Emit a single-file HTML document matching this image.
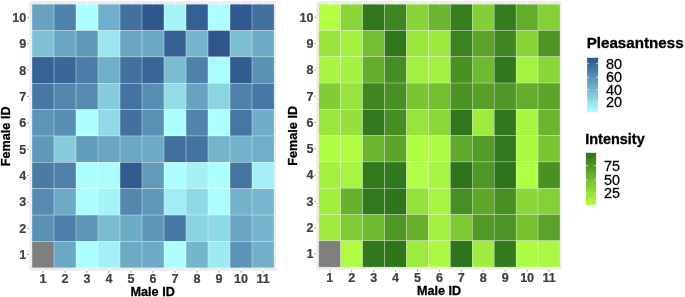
<!DOCTYPE html>
<html><head><meta charset="utf-8"><title>Heatmaps</title>
<style>
html,body{margin:0;padding:0;background:#fff;}
svg{display:block;}
text{font-family:"Liberation Sans",Arial,sans-serif;}
.tk{font-size:12.2px;font-weight:bold;fill:#404040;stroke:#404040;stroke-width:0.2px;}
.ax{font-size:12.4px;font-weight:bold;fill:#000;stroke:#000;stroke-width:0.3px;}
.lt{font-size:14px;font-weight:bold;fill:#000;stroke:#000;stroke-width:0.3px;}
.ll{font-size:14px;fill:#000;stroke:#000;stroke-width:0.25px;}
</style></head><body>
<svg width="685" height="297" viewBox="0 0 685 297">
<defs>
<linearGradient id="gb" x1="0" y1="0" x2="0" y2="1"><stop offset="0" stop-color="#2c548c"/><stop offset="1" stop-color="#adffff"/></linearGradient>
<linearGradient id="gg" x1="0" y1="0" x2="0" y2="1"><stop offset="0" stop-color="#2e741c"/><stop offset="1" stop-color="#b2ff44"/></linearGradient>
</defs>
<rect width="685" height="297" fill="#fff"/>
<rect x="29.3" y="1.2" width="246.7" height="269.40000000000003" fill="#ebebeb"/>
<line x1="43.05" x2="43.05" y1="1.2" y2="270.6" stroke="#fff" stroke-width="0.9"/>
<line x1="65.05" x2="65.05" y1="1.2" y2="270.6" stroke="#fff" stroke-width="0.9"/>
<line x1="87.05" x2="87.05" y1="1.2" y2="270.6" stroke="#fff" stroke-width="0.9"/>
<line x1="109.05" x2="109.05" y1="1.2" y2="270.6" stroke="#fff" stroke-width="0.9"/>
<line x1="131.05" x2="131.05" y1="1.2" y2="270.6" stroke="#fff" stroke-width="0.9"/>
<line x1="153.05" x2="153.05" y1="1.2" y2="270.6" stroke="#fff" stroke-width="0.9"/>
<line x1="175.05" x2="175.05" y1="1.2" y2="270.6" stroke="#fff" stroke-width="0.9"/>
<line x1="197.05" x2="197.05" y1="1.2" y2="270.6" stroke="#fff" stroke-width="0.9"/>
<line x1="219.05" x2="219.05" y1="1.2" y2="270.6" stroke="#fff" stroke-width="0.9"/>
<line x1="241.05" x2="241.05" y1="1.2" y2="270.6" stroke="#fff" stroke-width="0.9"/>
<line x1="263.05" x2="263.05" y1="1.2" y2="270.6" stroke="#fff" stroke-width="0.9"/>
<line y1="17.38" y2="17.38" x1="29.3" x2="276" stroke="#fff" stroke-width="0.9"/>
<line y1="43.74" y2="43.74" x1="29.3" x2="276" stroke="#fff" stroke-width="0.9"/>
<line y1="70.10" y2="70.10" x1="29.3" x2="276" stroke="#fff" stroke-width="0.9"/>
<line y1="96.46" y2="96.46" x1="29.3" x2="276" stroke="#fff" stroke-width="0.9"/>
<line y1="122.82" y2="122.82" x1="29.3" x2="276" stroke="#fff" stroke-width="0.9"/>
<line y1="149.18" y2="149.18" x1="29.3" x2="276" stroke="#fff" stroke-width="0.9"/>
<line y1="175.54" y2="175.54" x1="29.3" x2="276" stroke="#fff" stroke-width="0.9"/>
<line y1="201.90" y2="201.90" x1="29.3" x2="276" stroke="#fff" stroke-width="0.9"/>
<line y1="228.26" y2="228.26" x1="29.3" x2="276" stroke="#fff" stroke-width="0.9"/>
<line y1="254.62" y2="254.62" x1="29.3" x2="276" stroke="#fff" stroke-width="0.9"/>
<rect x="32.05" y="4.20" width="22.00" height="26.36" fill="#67a3c1" stroke="#fff" stroke-opacity="0.5" stroke-width="0.5"/>
<rect x="54.05" y="4.20" width="22.00" height="26.36" fill="#4f82ab" stroke="#fff" stroke-opacity="0.5" stroke-width="0.5"/>
<rect x="76.05" y="4.20" width="22.00" height="26.36" fill="#adffff" stroke="#fff" stroke-opacity="0.5" stroke-width="0.5"/>
<rect x="98.05" y="4.20" width="22.00" height="26.36" fill="#70afc9" stroke="#fff" stroke-opacity="0.5" stroke-width="0.5"/>
<rect x="120.05" y="4.20" width="22.00" height="26.36" fill="#4271a0" stroke="#fff" stroke-opacity="0.5" stroke-width="0.5"/>
<rect x="142.05" y="4.20" width="22.00" height="26.36" fill="#2f578e" stroke="#fff" stroke-opacity="0.5" stroke-width="0.5"/>
<rect x="164.05" y="4.20" width="22.00" height="26.36" fill="#a5f5f8" stroke="#fff" stroke-opacity="0.5" stroke-width="0.5"/>
<rect x="186.05" y="4.20" width="22.00" height="26.36" fill="#356094" stroke="#fff" stroke-opacity="0.5" stroke-width="0.5"/>
<rect x="208.05" y="4.20" width="22.00" height="26.36" fill="#adffff" stroke="#fff" stroke-opacity="0.5" stroke-width="0.5"/>
<rect x="230.05" y="4.20" width="22.00" height="26.36" fill="#30598f" stroke="#fff" stroke-opacity="0.5" stroke-width="0.5"/>
<rect x="252.05" y="4.20" width="22.00" height="26.36" fill="#416f9e" stroke="#fff" stroke-opacity="0.5" stroke-width="0.5"/>
<rect x="32.05" y="30.56" width="22.00" height="26.36" fill="#7fc1d6" stroke="#fff" stroke-opacity="0.5" stroke-width="0.5"/>
<rect x="54.05" y="30.56" width="22.00" height="26.36" fill="#6aa6c3" stroke="#fff" stroke-opacity="0.5" stroke-width="0.5"/>
<rect x="76.05" y="30.56" width="22.00" height="26.36" fill="#6098ba" stroke="#fff" stroke-opacity="0.5" stroke-width="0.5"/>
<rect x="98.05" y="30.56" width="22.00" height="26.36" fill="#9ae5ee" stroke="#fff" stroke-opacity="0.5" stroke-width="0.5"/>
<rect x="120.05" y="30.56" width="22.00" height="26.36" fill="#6aa6c3" stroke="#fff" stroke-opacity="0.5" stroke-width="0.5"/>
<rect x="142.05" y="30.56" width="22.00" height="26.36" fill="#6ba8c4" stroke="#fff" stroke-opacity="0.5" stroke-width="0.5"/>
<rect x="164.05" y="30.56" width="22.00" height="26.36" fill="#356094" stroke="#fff" stroke-opacity="0.5" stroke-width="0.5"/>
<rect x="186.05" y="30.56" width="22.00" height="26.36" fill="#76b5ce" stroke="#fff" stroke-opacity="0.5" stroke-width="0.5"/>
<rect x="208.05" y="30.56" width="22.00" height="26.36" fill="#2d568d" stroke="#fff" stroke-opacity="0.5" stroke-width="0.5"/>
<rect x="230.05" y="30.56" width="22.00" height="26.36" fill="#7cbed3" stroke="#fff" stroke-opacity="0.5" stroke-width="0.5"/>
<rect x="252.05" y="30.56" width="22.00" height="26.36" fill="#6caac6" stroke="#fff" stroke-opacity="0.5" stroke-width="0.5"/>
<rect x="32.05" y="56.92" width="22.00" height="26.36" fill="#366295" stroke="#fff" stroke-opacity="0.5" stroke-width="0.5"/>
<rect x="54.05" y="56.92" width="22.00" height="26.36" fill="#3a6799" stroke="#fff" stroke-opacity="0.5" stroke-width="0.5"/>
<rect x="76.05" y="56.92" width="22.00" height="26.36" fill="#4b7da8" stroke="#fff" stroke-opacity="0.5" stroke-width="0.5"/>
<rect x="98.05" y="56.92" width="22.00" height="26.36" fill="#70afc9" stroke="#fff" stroke-opacity="0.5" stroke-width="0.5"/>
<rect x="120.05" y="56.92" width="22.00" height="26.36" fill="#4271a0" stroke="#fff" stroke-opacity="0.5" stroke-width="0.5"/>
<rect x="142.05" y="56.92" width="22.00" height="26.36" fill="#396598" stroke="#fff" stroke-opacity="0.5" stroke-width="0.5"/>
<rect x="164.05" y="56.92" width="22.00" height="26.36" fill="#79bbd1" stroke="#fff" stroke-opacity="0.5" stroke-width="0.5"/>
<rect x="186.05" y="56.92" width="22.00" height="26.36" fill="#4f82ab" stroke="#fff" stroke-opacity="0.5" stroke-width="0.5"/>
<rect x="208.05" y="56.92" width="22.00" height="26.36" fill="#aafcfd" stroke="#fff" stroke-opacity="0.5" stroke-width="0.5"/>
<rect x="230.05" y="56.92" width="22.00" height="26.36" fill="#325d92" stroke="#fff" stroke-opacity="0.5" stroke-width="0.5"/>
<rect x="252.05" y="56.92" width="22.00" height="26.36" fill="#5a92b5" stroke="#fff" stroke-opacity="0.5" stroke-width="0.5"/>
<rect x="32.05" y="83.28" width="22.00" height="26.36" fill="#4778a4" stroke="#fff" stroke-opacity="0.5" stroke-width="0.5"/>
<rect x="54.05" y="83.28" width="22.00" height="26.36" fill="#5387ae" stroke="#fff" stroke-opacity="0.5" stroke-width="0.5"/>
<rect x="76.05" y="83.28" width="22.00" height="26.36" fill="#558bb1" stroke="#fff" stroke-opacity="0.5" stroke-width="0.5"/>
<rect x="98.05" y="83.28" width="22.00" height="26.36" fill="#86ccdc" stroke="#fff" stroke-opacity="0.5" stroke-width="0.5"/>
<rect x="120.05" y="83.28" width="22.00" height="26.36" fill="#4373a1" stroke="#fff" stroke-opacity="0.5" stroke-width="0.5"/>
<rect x="142.05" y="83.28" width="22.00" height="26.36" fill="#588eb3" stroke="#fff" stroke-opacity="0.5" stroke-width="0.5"/>
<rect x="164.05" y="83.28" width="22.00" height="26.36" fill="#93dde8" stroke="#fff" stroke-opacity="0.5" stroke-width="0.5"/>
<rect x="186.05" y="83.28" width="22.00" height="26.36" fill="#67a3c1" stroke="#fff" stroke-opacity="0.5" stroke-width="0.5"/>
<rect x="208.05" y="83.28" width="22.00" height="26.36" fill="#8dd4e2" stroke="#fff" stroke-opacity="0.5" stroke-width="0.5"/>
<rect x="230.05" y="83.28" width="22.00" height="26.36" fill="#4f82ab" stroke="#fff" stroke-opacity="0.5" stroke-width="0.5"/>
<rect x="252.05" y="83.28" width="22.00" height="26.36" fill="#4676a3" stroke="#fff" stroke-opacity="0.5" stroke-width="0.5"/>
<rect x="32.05" y="109.64" width="22.00" height="26.36" fill="#5d95b8" stroke="#fff" stroke-opacity="0.5" stroke-width="0.5"/>
<rect x="54.05" y="109.64" width="22.00" height="26.36" fill="#588eb3" stroke="#fff" stroke-opacity="0.5" stroke-width="0.5"/>
<rect x="76.05" y="109.64" width="22.00" height="26.36" fill="#adffff" stroke="#fff" stroke-opacity="0.5" stroke-width="0.5"/>
<rect x="98.05" y="109.64" width="22.00" height="26.36" fill="#91d9e6" stroke="#fff" stroke-opacity="0.5" stroke-width="0.5"/>
<rect x="120.05" y="109.64" width="22.00" height="26.36" fill="#4271a0" stroke="#fff" stroke-opacity="0.5" stroke-width="0.5"/>
<rect x="142.05" y="109.64" width="22.00" height="26.36" fill="#5990b4" stroke="#fff" stroke-opacity="0.5" stroke-width="0.5"/>
<rect x="164.05" y="109.64" width="22.00" height="26.36" fill="#adffff" stroke="#fff" stroke-opacity="0.5" stroke-width="0.5"/>
<rect x="186.05" y="109.64" width="22.00" height="26.36" fill="#5084ac" stroke="#fff" stroke-opacity="0.5" stroke-width="0.5"/>
<rect x="208.05" y="109.64" width="22.00" height="26.36" fill="#adffff" stroke="#fff" stroke-opacity="0.5" stroke-width="0.5"/>
<rect x="230.05" y="109.64" width="22.00" height="26.36" fill="#4676a3" stroke="#fff" stroke-opacity="0.5" stroke-width="0.5"/>
<rect x="252.05" y="109.64" width="22.00" height="26.36" fill="#6fadc8" stroke="#fff" stroke-opacity="0.5" stroke-width="0.5"/>
<rect x="32.05" y="136.00" width="22.00" height="26.36" fill="#6098ba" stroke="#fff" stroke-opacity="0.5" stroke-width="0.5"/>
<rect x="54.05" y="136.00" width="22.00" height="26.36" fill="#86ccdc" stroke="#fff" stroke-opacity="0.5" stroke-width="0.5"/>
<rect x="76.05" y="136.00" width="22.00" height="26.36" fill="#629cbc" stroke="#fff" stroke-opacity="0.5" stroke-width="0.5"/>
<rect x="98.05" y="136.00" width="22.00" height="26.36" fill="#6aa6c3" stroke="#fff" stroke-opacity="0.5" stroke-width="0.5"/>
<rect x="120.05" y="136.00" width="22.00" height="26.36" fill="#6ba8c4" stroke="#fff" stroke-opacity="0.5" stroke-width="0.5"/>
<rect x="142.05" y="136.00" width="22.00" height="26.36" fill="#6caac6" stroke="#fff" stroke-opacity="0.5" stroke-width="0.5"/>
<rect x="164.05" y="136.00" width="22.00" height="26.36" fill="#416f9e" stroke="#fff" stroke-opacity="0.5" stroke-width="0.5"/>
<rect x="186.05" y="136.00" width="22.00" height="26.36" fill="#4373a1" stroke="#fff" stroke-opacity="0.5" stroke-width="0.5"/>
<rect x="208.05" y="136.00" width="22.00" height="26.36" fill="#74b4cc" stroke="#fff" stroke-opacity="0.5" stroke-width="0.5"/>
<rect x="230.05" y="136.00" width="22.00" height="26.36" fill="#73b2cb" stroke="#fff" stroke-opacity="0.5" stroke-width="0.5"/>
<rect x="252.05" y="136.00" width="22.00" height="26.36" fill="#70afc9" stroke="#fff" stroke-opacity="0.5" stroke-width="0.5"/>
<rect x="32.05" y="162.36" width="22.00" height="26.36" fill="#4a7ba6" stroke="#fff" stroke-opacity="0.5" stroke-width="0.5"/>
<rect x="54.05" y="162.36" width="22.00" height="26.36" fill="#4e80aa" stroke="#fff" stroke-opacity="0.5" stroke-width="0.5"/>
<rect x="76.05" y="162.36" width="22.00" height="26.36" fill="#adffff" stroke="#fff" stroke-opacity="0.5" stroke-width="0.5"/>
<rect x="98.05" y="162.36" width="22.00" height="26.36" fill="#aafcfd" stroke="#fff" stroke-opacity="0.5" stroke-width="0.5"/>
<rect x="120.05" y="162.36" width="22.00" height="26.36" fill="#315b91" stroke="#fff" stroke-opacity="0.5" stroke-width="0.5"/>
<rect x="142.05" y="162.36" width="22.00" height="26.36" fill="#619abb" stroke="#fff" stroke-opacity="0.5" stroke-width="0.5"/>
<rect x="164.05" y="162.36" width="22.00" height="26.36" fill="#adffff" stroke="#fff" stroke-opacity="0.5" stroke-width="0.5"/>
<rect x="186.05" y="162.36" width="22.00" height="26.36" fill="#a3f1f6" stroke="#fff" stroke-opacity="0.5" stroke-width="0.5"/>
<rect x="208.05" y="162.36" width="22.00" height="26.36" fill="#adffff" stroke="#fff" stroke-opacity="0.5" stroke-width="0.5"/>
<rect x="230.05" y="162.36" width="22.00" height="26.36" fill="#4574a2" stroke="#fff" stroke-opacity="0.5" stroke-width="0.5"/>
<rect x="252.05" y="162.36" width="22.00" height="26.36" fill="#a3f1f6" stroke="#fff" stroke-opacity="0.5" stroke-width="0.5"/>
<rect x="32.05" y="188.72" width="22.00" height="26.36" fill="#558bb1" stroke="#fff" stroke-opacity="0.5" stroke-width="0.5"/>
<rect x="54.05" y="188.72" width="22.00" height="26.36" fill="#6caac6" stroke="#fff" stroke-opacity="0.5" stroke-width="0.5"/>
<rect x="76.05" y="188.72" width="22.00" height="26.36" fill="#adffff" stroke="#fff" stroke-opacity="0.5" stroke-width="0.5"/>
<rect x="98.05" y="188.72" width="22.00" height="26.36" fill="#a4f3f7" stroke="#fff" stroke-opacity="0.5" stroke-width="0.5"/>
<rect x="120.05" y="188.72" width="22.00" height="26.36" fill="#5387ae" stroke="#fff" stroke-opacity="0.5" stroke-width="0.5"/>
<rect x="142.05" y="188.72" width="22.00" height="26.36" fill="#6098ba" stroke="#fff" stroke-opacity="0.5" stroke-width="0.5"/>
<rect x="164.05" y="188.72" width="22.00" height="26.36" fill="#a0eef4" stroke="#fff" stroke-opacity="0.5" stroke-width="0.5"/>
<rect x="186.05" y="188.72" width="22.00" height="26.36" fill="#8fd8e5" stroke="#fff" stroke-opacity="0.5" stroke-width="0.5"/>
<rect x="208.05" y="188.72" width="22.00" height="26.36" fill="#aafcfd" stroke="#fff" stroke-opacity="0.5" stroke-width="0.5"/>
<rect x="230.05" y="188.72" width="22.00" height="26.36" fill="#73b2cb" stroke="#fff" stroke-opacity="0.5" stroke-width="0.5"/>
<rect x="252.05" y="188.72" width="22.00" height="26.36" fill="#77b7cf" stroke="#fff" stroke-opacity="0.5" stroke-width="0.5"/>
<rect x="32.05" y="215.08" width="22.00" height="26.36" fill="#5a92b5" stroke="#fff" stroke-opacity="0.5" stroke-width="0.5"/>
<rect x="54.05" y="215.08" width="22.00" height="26.36" fill="#4c7fa9" stroke="#fff" stroke-opacity="0.5" stroke-width="0.5"/>
<rect x="76.05" y="215.08" width="22.00" height="26.36" fill="#5e97b9" stroke="#fff" stroke-opacity="0.5" stroke-width="0.5"/>
<rect x="98.05" y="215.08" width="22.00" height="26.36" fill="#79bbd1" stroke="#fff" stroke-opacity="0.5" stroke-width="0.5"/>
<rect x="120.05" y="215.08" width="22.00" height="26.36" fill="#6eabc7" stroke="#fff" stroke-opacity="0.5" stroke-width="0.5"/>
<rect x="142.05" y="215.08" width="22.00" height="26.36" fill="#5e97b9" stroke="#fff" stroke-opacity="0.5" stroke-width="0.5"/>
<rect x="164.05" y="215.08" width="22.00" height="26.36" fill="#4778a4" stroke="#fff" stroke-opacity="0.5" stroke-width="0.5"/>
<rect x="186.05" y="215.08" width="22.00" height="26.36" fill="#8bd3e1" stroke="#fff" stroke-opacity="0.5" stroke-width="0.5"/>
<rect x="208.05" y="215.08" width="22.00" height="26.36" fill="#8fd8e5" stroke="#fff" stroke-opacity="0.5" stroke-width="0.5"/>
<rect x="230.05" y="215.08" width="22.00" height="26.36" fill="#69a4c2" stroke="#fff" stroke-opacity="0.5" stroke-width="0.5"/>
<rect x="252.05" y="215.08" width="22.00" height="26.36" fill="#76b5ce" stroke="#fff" stroke-opacity="0.5" stroke-width="0.5"/>
<rect x="32.05" y="241.44" width="22.00" height="26.36" fill="#7f7f7f" stroke="#fff" stroke-opacity="0.5" stroke-width="0.5"/>
<rect x="54.05" y="241.44" width="22.00" height="26.36" fill="#6ba8c4" stroke="#fff" stroke-opacity="0.5" stroke-width="0.5"/>
<rect x="76.05" y="241.44" width="22.00" height="26.36" fill="#adffff" stroke="#fff" stroke-opacity="0.5" stroke-width="0.5"/>
<rect x="98.05" y="241.44" width="22.00" height="26.36" fill="#a3f1f6" stroke="#fff" stroke-opacity="0.5" stroke-width="0.5"/>
<rect x="120.05" y="241.44" width="22.00" height="26.36" fill="#6caac6" stroke="#fff" stroke-opacity="0.5" stroke-width="0.5"/>
<rect x="142.05" y="241.44" width="22.00" height="26.36" fill="#6caac6" stroke="#fff" stroke-opacity="0.5" stroke-width="0.5"/>
<rect x="164.05" y="241.44" width="22.00" height="26.36" fill="#adffff" stroke="#fff" stroke-opacity="0.5" stroke-width="0.5"/>
<rect x="186.05" y="241.44" width="22.00" height="26.36" fill="#74b4cc" stroke="#fff" stroke-opacity="0.5" stroke-width="0.5"/>
<rect x="208.05" y="241.44" width="22.00" height="26.36" fill="#9eeaf1" stroke="#fff" stroke-opacity="0.5" stroke-width="0.5"/>
<rect x="230.05" y="241.44" width="22.00" height="26.36" fill="#5c93b7" stroke="#fff" stroke-opacity="0.5" stroke-width="0.5"/>
<rect x="252.05" y="241.44" width="22.00" height="26.36" fill="#72b0ca" stroke="#fff" stroke-opacity="0.5" stroke-width="0.5"/>
<line x1="43.05" x2="43.05" y1="270.90000000000003" y2="272.6" stroke="#777" stroke-width="0.8"/>
<text transform="translate(43.05,283.20) scale(1.03,1)" text-anchor="middle" class="tk">1</text>
<line x1="65.05" x2="65.05" y1="270.90000000000003" y2="272.6" stroke="#777" stroke-width="0.8"/>
<text transform="translate(65.05,283.20) scale(1.03,1)" text-anchor="middle" class="tk">2</text>
<line x1="87.05" x2="87.05" y1="270.90000000000003" y2="272.6" stroke="#777" stroke-width="0.8"/>
<text transform="translate(87.05,283.20) scale(1.03,1)" text-anchor="middle" class="tk">3</text>
<line x1="109.05" x2="109.05" y1="270.90000000000003" y2="272.6" stroke="#777" stroke-width="0.8"/>
<text transform="translate(109.05,283.20) scale(1.03,1)" text-anchor="middle" class="tk">4</text>
<line x1="131.05" x2="131.05" y1="270.90000000000003" y2="272.6" stroke="#777" stroke-width="0.8"/>
<text transform="translate(131.05,283.20) scale(1.03,1)" text-anchor="middle" class="tk">5</text>
<line x1="153.05" x2="153.05" y1="270.90000000000003" y2="272.6" stroke="#777" stroke-width="0.8"/>
<text transform="translate(153.05,283.20) scale(1.03,1)" text-anchor="middle" class="tk">6</text>
<line x1="175.05" x2="175.05" y1="270.90000000000003" y2="272.6" stroke="#777" stroke-width="0.8"/>
<text transform="translate(175.05,283.20) scale(1.03,1)" text-anchor="middle" class="tk">7</text>
<line x1="197.05" x2="197.05" y1="270.90000000000003" y2="272.6" stroke="#777" stroke-width="0.8"/>
<text transform="translate(197.05,283.20) scale(1.03,1)" text-anchor="middle" class="tk">8</text>
<line x1="219.05" x2="219.05" y1="270.90000000000003" y2="272.6" stroke="#777" stroke-width="0.8"/>
<text transform="translate(219.05,283.20) scale(1.03,1)" text-anchor="middle" class="tk">9</text>
<line x1="241.05" x2="241.05" y1="270.90000000000003" y2="272.6" stroke="#777" stroke-width="0.8"/>
<text transform="translate(241.05,283.20) scale(1.03,1)" text-anchor="middle" class="tk">10</text>
<line x1="263.05" x2="263.05" y1="270.90000000000003" y2="272.6" stroke="#777" stroke-width="0.8"/>
<text transform="translate(263.05,283.20) scale(1.03,1)" text-anchor="middle" class="tk">11</text>
<line y1="17.38" y2="17.38" x1="27.3" x2="29.0" stroke="#777" stroke-width="0.8"/>
<text transform="translate(26.30,21.78) scale(1.03,1)" text-anchor="end" class="tk">10</text>
<line y1="43.74" y2="43.74" x1="27.3" x2="29.0" stroke="#777" stroke-width="0.8"/>
<text transform="translate(26.30,48.14) scale(1.03,1)" text-anchor="end" class="tk">9</text>
<line y1="70.10" y2="70.10" x1="27.3" x2="29.0" stroke="#777" stroke-width="0.8"/>
<text transform="translate(26.30,74.50) scale(1.03,1)" text-anchor="end" class="tk">8</text>
<line y1="96.46" y2="96.46" x1="27.3" x2="29.0" stroke="#777" stroke-width="0.8"/>
<text transform="translate(26.30,100.86) scale(1.03,1)" text-anchor="end" class="tk">7</text>
<line y1="122.82" y2="122.82" x1="27.3" x2="29.0" stroke="#777" stroke-width="0.8"/>
<text transform="translate(26.30,127.22) scale(1.03,1)" text-anchor="end" class="tk">6</text>
<line y1="149.18" y2="149.18" x1="27.3" x2="29.0" stroke="#777" stroke-width="0.8"/>
<text transform="translate(26.30,153.58) scale(1.03,1)" text-anchor="end" class="tk">5</text>
<line y1="175.54" y2="175.54" x1="27.3" x2="29.0" stroke="#777" stroke-width="0.8"/>
<text transform="translate(26.30,179.94) scale(1.03,1)" text-anchor="end" class="tk">4</text>
<line y1="201.90" y2="201.90" x1="27.3" x2="29.0" stroke="#777" stroke-width="0.8"/>
<text transform="translate(26.30,206.30) scale(1.03,1)" text-anchor="end" class="tk">3</text>
<line y1="228.26" y2="228.26" x1="27.3" x2="29.0" stroke="#777" stroke-width="0.8"/>
<text transform="translate(26.30,232.66) scale(1.03,1)" text-anchor="end" class="tk">2</text>
<line y1="254.62" y2="254.62" x1="27.3" x2="29.0" stroke="#777" stroke-width="0.8"/>
<text transform="translate(26.30,259.02) scale(1.03,1)" text-anchor="end" class="tk">1</text>
<text transform="translate(152.65,295.70) scale(1.02,1)" text-anchor="middle" class="ax">Male ID</text>
<text transform="translate(9.70,136.30) rotate(-90) scale(1.02,1)" text-anchor="middle" class="ax">Female ID</text>
<rect x="316.4" y="1.2" width="245.30000000000007" height="268.40000000000003" fill="#ebebeb"/>
<line x1="329.76" x2="329.76" y1="1.2" y2="269.6" stroke="#fff" stroke-width="0.9"/>
<line x1="351.69" x2="351.69" y1="1.2" y2="269.6" stroke="#fff" stroke-width="0.9"/>
<line x1="373.62" x2="373.62" y1="1.2" y2="269.6" stroke="#fff" stroke-width="0.9"/>
<line x1="395.55" x2="395.55" y1="1.2" y2="269.6" stroke="#fff" stroke-width="0.9"/>
<line x1="417.47" x2="417.47" y1="1.2" y2="269.6" stroke="#fff" stroke-width="0.9"/>
<line x1="439.40" x2="439.40" y1="1.2" y2="269.6" stroke="#fff" stroke-width="0.9"/>
<line x1="461.33" x2="461.33" y1="1.2" y2="269.6" stroke="#fff" stroke-width="0.9"/>
<line x1="483.25" x2="483.25" y1="1.2" y2="269.6" stroke="#fff" stroke-width="0.9"/>
<line x1="505.18" x2="505.18" y1="1.2" y2="269.6" stroke="#fff" stroke-width="0.9"/>
<line x1="527.11" x2="527.11" y1="1.2" y2="269.6" stroke="#fff" stroke-width="0.9"/>
<line x1="549.04" x2="549.04" y1="1.2" y2="269.6" stroke="#fff" stroke-width="0.9"/>
<line y1="17.35" y2="17.35" x1="316.4" x2="561.7" stroke="#fff" stroke-width="0.9"/>
<line y1="43.64" y2="43.64" x1="316.4" x2="561.7" stroke="#fff" stroke-width="0.9"/>
<line y1="69.93" y2="69.93" x1="316.4" x2="561.7" stroke="#fff" stroke-width="0.9"/>
<line y1="96.22" y2="96.22" x1="316.4" x2="561.7" stroke="#fff" stroke-width="0.9"/>
<line y1="122.51" y2="122.51" x1="316.4" x2="561.7" stroke="#fff" stroke-width="0.9"/>
<line y1="148.80" y2="148.80" x1="316.4" x2="561.7" stroke="#fff" stroke-width="0.9"/>
<line y1="175.09" y2="175.09" x1="316.4" x2="561.7" stroke="#fff" stroke-width="0.9"/>
<line y1="201.38" y2="201.38" x1="316.4" x2="561.7" stroke="#fff" stroke-width="0.9"/>
<line y1="227.67" y2="227.67" x1="316.4" x2="561.7" stroke="#fff" stroke-width="0.9"/>
<line y1="253.96" y2="253.96" x1="316.4" x2="561.7" stroke="#fff" stroke-width="0.9"/>
<rect x="318.80" y="4.20" width="21.93" height="26.29" fill="#b2ff44" stroke="#fff" stroke-opacity="0.5" stroke-width="0.5"/>
<rect x="340.73" y="4.20" width="21.93" height="26.29" fill="#8ad538" stroke="#fff" stroke-opacity="0.5" stroke-width="0.5"/>
<rect x="362.65" y="4.20" width="21.93" height="26.29" fill="#31771d" stroke="#fff" stroke-opacity="0.5" stroke-width="0.5"/>
<rect x="384.58" y="4.20" width="21.93" height="26.29" fill="#3f8621" stroke="#fff" stroke-opacity="0.5" stroke-width="0.5"/>
<rect x="406.51" y="4.20" width="21.93" height="26.29" fill="#88d337" stroke="#fff" stroke-opacity="0.5" stroke-width="0.5"/>
<rect x="428.44" y="4.20" width="21.93" height="26.29" fill="#6cb52f" stroke="#fff" stroke-opacity="0.5" stroke-width="0.5"/>
<rect x="450.36" y="4.20" width="21.93" height="26.29" fill="#377e1f" stroke="#fff" stroke-opacity="0.5" stroke-width="0.5"/>
<rect x="472.29" y="4.20" width="21.93" height="26.29" fill="#84ce36" stroke="#fff" stroke-opacity="0.5" stroke-width="0.5"/>
<rect x="494.22" y="4.20" width="21.93" height="26.29" fill="#367c1e" stroke="#fff" stroke-opacity="0.5" stroke-width="0.5"/>
<rect x="516.15" y="4.20" width="21.93" height="26.29" fill="#63ac2c" stroke="#fff" stroke-opacity="0.5" stroke-width="0.5"/>
<rect x="538.07" y="4.20" width="21.93" height="26.29" fill="#85d036" stroke="#fff" stroke-opacity="0.5" stroke-width="0.5"/>
<rect x="318.80" y="30.49" width="21.93" height="26.29" fill="#98e33c" stroke="#fff" stroke-opacity="0.5" stroke-width="0.5"/>
<rect x="340.73" y="30.49" width="21.93" height="26.29" fill="#a5f140" stroke="#fff" stroke-opacity="0.5" stroke-width="0.5"/>
<rect x="362.65" y="30.49" width="21.93" height="26.29" fill="#74be31" stroke="#fff" stroke-opacity="0.5" stroke-width="0.5"/>
<rect x="384.58" y="30.49" width="21.93" height="26.29" fill="#31771d" stroke="#fff" stroke-opacity="0.5" stroke-width="0.5"/>
<rect x="406.51" y="30.49" width="21.93" height="26.29" fill="#9ae63d" stroke="#fff" stroke-opacity="0.5" stroke-width="0.5"/>
<rect x="428.44" y="30.49" width="21.93" height="26.29" fill="#9de93e" stroke="#fff" stroke-opacity="0.5" stroke-width="0.5"/>
<rect x="450.36" y="30.49" width="21.93" height="26.29" fill="#3b8220" stroke="#fff" stroke-opacity="0.5" stroke-width="0.5"/>
<rect x="472.29" y="30.49" width="21.93" height="26.29" fill="#5ba32a" stroke="#fff" stroke-opacity="0.5" stroke-width="0.5"/>
<rect x="494.22" y="30.49" width="21.93" height="26.29" fill="#3f8621" stroke="#fff" stroke-opacity="0.5" stroke-width="0.5"/>
<rect x="516.15" y="30.49" width="21.93" height="26.29" fill="#88d337" stroke="#fff" stroke-opacity="0.5" stroke-width="0.5"/>
<rect x="538.07" y="30.49" width="21.93" height="26.29" fill="#4e9526" stroke="#fff" stroke-opacity="0.5" stroke-width="0.5"/>
<rect x="318.80" y="56.78" width="21.93" height="26.29" fill="#a9f541" stroke="#fff" stroke-opacity="0.5" stroke-width="0.5"/>
<rect x="340.73" y="56.78" width="21.93" height="26.29" fill="#a5f140" stroke="#fff" stroke-opacity="0.5" stroke-width="0.5"/>
<rect x="362.65" y="56.78" width="21.93" height="26.29" fill="#65ae2d" stroke="#fff" stroke-opacity="0.5" stroke-width="0.5"/>
<rect x="384.58" y="56.78" width="21.93" height="26.29" fill="#468d23" stroke="#fff" stroke-opacity="0.5" stroke-width="0.5"/>
<rect x="406.51" y="56.78" width="21.93" height="26.29" fill="#a3f040" stroke="#fff" stroke-opacity="0.5" stroke-width="0.5"/>
<rect x="428.44" y="56.78" width="21.93" height="26.29" fill="#a5f140" stroke="#fff" stroke-opacity="0.5" stroke-width="0.5"/>
<rect x="450.36" y="56.78" width="21.93" height="26.29" fill="#4a9124" stroke="#fff" stroke-opacity="0.5" stroke-width="0.5"/>
<rect x="472.29" y="56.78" width="21.93" height="26.29" fill="#70ba30" stroke="#fff" stroke-opacity="0.5" stroke-width="0.5"/>
<rect x="494.22" y="56.78" width="21.93" height="26.29" fill="#31771d" stroke="#fff" stroke-opacity="0.5" stroke-width="0.5"/>
<rect x="516.15" y="56.78" width="21.93" height="26.29" fill="#a6f240" stroke="#fff" stroke-opacity="0.5" stroke-width="0.5"/>
<rect x="538.07" y="56.78" width="21.93" height="26.29" fill="#8cd738" stroke="#fff" stroke-opacity="0.5" stroke-width="0.5"/>
<rect x="318.80" y="83.07" width="21.93" height="26.29" fill="#82cd36" stroke="#fff" stroke-opacity="0.5" stroke-width="0.5"/>
<rect x="340.73" y="83.07" width="21.93" height="26.29" fill="#98e33c" stroke="#fff" stroke-opacity="0.5" stroke-width="0.5"/>
<rect x="362.65" y="83.07" width="21.93" height="26.29" fill="#3f8621" stroke="#fff" stroke-opacity="0.5" stroke-width="0.5"/>
<rect x="384.58" y="83.07" width="21.93" height="26.29" fill="#489024" stroke="#fff" stroke-opacity="0.5" stroke-width="0.5"/>
<rect x="406.51" y="83.07" width="21.93" height="26.29" fill="#7bc533" stroke="#fff" stroke-opacity="0.5" stroke-width="0.5"/>
<rect x="428.44" y="83.07" width="21.93" height="26.29" fill="#74be31" stroke="#fff" stroke-opacity="0.5" stroke-width="0.5"/>
<rect x="450.36" y="83.07" width="21.93" height="26.29" fill="#4b9325" stroke="#fff" stroke-opacity="0.5" stroke-width="0.5"/>
<rect x="472.29" y="83.07" width="21.93" height="26.29" fill="#579f28" stroke="#fff" stroke-opacity="0.5" stroke-width="0.5"/>
<rect x="494.22" y="83.07" width="21.93" height="26.29" fill="#4f9726" stroke="#fff" stroke-opacity="0.5" stroke-width="0.5"/>
<rect x="516.15" y="83.07" width="21.93" height="26.29" fill="#64ad2c" stroke="#fff" stroke-opacity="0.5" stroke-width="0.5"/>
<rect x="538.07" y="83.07" width="21.93" height="26.29" fill="#5ba32a" stroke="#fff" stroke-opacity="0.5" stroke-width="0.5"/>
<rect x="318.80" y="109.36" width="21.93" height="26.29" fill="#9ae63d" stroke="#fff" stroke-opacity="0.5" stroke-width="0.5"/>
<rect x="340.73" y="109.36" width="21.93" height="26.29" fill="#95e03b" stroke="#fff" stroke-opacity="0.5" stroke-width="0.5"/>
<rect x="362.65" y="109.36" width="21.93" height="26.29" fill="#32781d" stroke="#fff" stroke-opacity="0.5" stroke-width="0.5"/>
<rect x="384.58" y="109.36" width="21.93" height="26.29" fill="#468d23" stroke="#fff" stroke-opacity="0.5" stroke-width="0.5"/>
<rect x="406.51" y="109.36" width="21.93" height="26.29" fill="#98e33c" stroke="#fff" stroke-opacity="0.5" stroke-width="0.5"/>
<rect x="428.44" y="109.36" width="21.93" height="26.29" fill="#8dd839" stroke="#fff" stroke-opacity="0.5" stroke-width="0.5"/>
<rect x="450.36" y="109.36" width="21.93" height="26.29" fill="#31771d" stroke="#fff" stroke-opacity="0.5" stroke-width="0.5"/>
<rect x="472.29" y="109.36" width="21.93" height="26.29" fill="#9eea3e" stroke="#fff" stroke-opacity="0.5" stroke-width="0.5"/>
<rect x="494.22" y="109.36" width="21.93" height="26.29" fill="#31771d" stroke="#fff" stroke-opacity="0.5" stroke-width="0.5"/>
<rect x="516.15" y="109.36" width="21.93" height="26.29" fill="#a9f541" stroke="#fff" stroke-opacity="0.5" stroke-width="0.5"/>
<rect x="538.07" y="109.36" width="21.93" height="26.29" fill="#6cb52f" stroke="#fff" stroke-opacity="0.5" stroke-width="0.5"/>
<rect x="318.80" y="135.65" width="21.93" height="26.29" fill="#affc43" stroke="#fff" stroke-opacity="0.5" stroke-width="0.5"/>
<rect x="340.73" y="135.65" width="21.93" height="26.29" fill="#affc43" stroke="#fff" stroke-opacity="0.5" stroke-width="0.5"/>
<rect x="362.65" y="135.65" width="21.93" height="26.29" fill="#6bb42e" stroke="#fff" stroke-opacity="0.5" stroke-width="0.5"/>
<rect x="384.58" y="135.65" width="21.93" height="26.29" fill="#5ca52a" stroke="#fff" stroke-opacity="0.5" stroke-width="0.5"/>
<rect x="406.51" y="135.65" width="21.93" height="26.29" fill="#affc43" stroke="#fff" stroke-opacity="0.5" stroke-width="0.5"/>
<rect x="428.44" y="135.65" width="21.93" height="26.29" fill="#aefb43" stroke="#fff" stroke-opacity="0.5" stroke-width="0.5"/>
<rect x="450.36" y="135.65" width="21.93" height="26.29" fill="#60a92b" stroke="#fff" stroke-opacity="0.5" stroke-width="0.5"/>
<rect x="472.29" y="135.65" width="21.93" height="26.29" fill="#549c28" stroke="#fff" stroke-opacity="0.5" stroke-width="0.5"/>
<rect x="494.22" y="135.65" width="21.93" height="26.29" fill="#337a1e" stroke="#fff" stroke-opacity="0.5" stroke-width="0.5"/>
<rect x="516.15" y="135.65" width="21.93" height="26.29" fill="#adf942" stroke="#fff" stroke-opacity="0.5" stroke-width="0.5"/>
<rect x="538.07" y="135.65" width="21.93" height="26.29" fill="#7bc533" stroke="#fff" stroke-opacity="0.5" stroke-width="0.5"/>
<rect x="318.80" y="161.94" width="21.93" height="26.29" fill="#a3f040" stroke="#fff" stroke-opacity="0.5" stroke-width="0.5"/>
<rect x="340.73" y="161.94" width="21.93" height="26.29" fill="#a7f441" stroke="#fff" stroke-opacity="0.5" stroke-width="0.5"/>
<rect x="362.65" y="161.94" width="21.93" height="26.29" fill="#32781d" stroke="#fff" stroke-opacity="0.5" stroke-width="0.5"/>
<rect x="384.58" y="161.94" width="21.93" height="26.29" fill="#31771d" stroke="#fff" stroke-opacity="0.5" stroke-width="0.5"/>
<rect x="406.51" y="161.94" width="21.93" height="26.29" fill="#b1fe44" stroke="#fff" stroke-opacity="0.5" stroke-width="0.5"/>
<rect x="428.44" y="161.94" width="21.93" height="26.29" fill="#a7f441" stroke="#fff" stroke-opacity="0.5" stroke-width="0.5"/>
<rect x="450.36" y="161.94" width="21.93" height="26.29" fill="#2e741c" stroke="#fff" stroke-opacity="0.5" stroke-width="0.5"/>
<rect x="472.29" y="161.94" width="21.93" height="26.29" fill="#4f9726" stroke="#fff" stroke-opacity="0.5" stroke-width="0.5"/>
<rect x="494.22" y="161.94" width="21.93" height="26.29" fill="#2e741c" stroke="#fff" stroke-opacity="0.5" stroke-width="0.5"/>
<rect x="516.15" y="161.94" width="21.93" height="26.29" fill="#b1fe44" stroke="#fff" stroke-opacity="0.5" stroke-width="0.5"/>
<rect x="538.07" y="161.94" width="21.93" height="26.29" fill="#4a9124" stroke="#fff" stroke-opacity="0.5" stroke-width="0.5"/>
<rect x="318.80" y="188.23" width="21.93" height="26.29" fill="#a2ee3f" stroke="#fff" stroke-opacity="0.5" stroke-width="0.5"/>
<rect x="340.73" y="188.23" width="21.93" height="26.29" fill="#68b12e" stroke="#fff" stroke-opacity="0.5" stroke-width="0.5"/>
<rect x="362.65" y="188.23" width="21.93" height="26.29" fill="#32781d" stroke="#fff" stroke-opacity="0.5" stroke-width="0.5"/>
<rect x="384.58" y="188.23" width="21.93" height="26.29" fill="#2f751c" stroke="#fff" stroke-opacity="0.5" stroke-width="0.5"/>
<rect x="406.51" y="188.23" width="21.93" height="26.29" fill="#96e23c" stroke="#fff" stroke-opacity="0.5" stroke-width="0.5"/>
<rect x="428.44" y="188.23" width="21.93" height="26.29" fill="#a7f441" stroke="#fff" stroke-opacity="0.5" stroke-width="0.5"/>
<rect x="450.36" y="188.23" width="21.93" height="26.29" fill="#478e24" stroke="#fff" stroke-opacity="0.5" stroke-width="0.5"/>
<rect x="472.29" y="188.23" width="21.93" height="26.29" fill="#5fa72b" stroke="#fff" stroke-opacity="0.5" stroke-width="0.5"/>
<rect x="494.22" y="188.23" width="21.93" height="26.29" fill="#489024" stroke="#fff" stroke-opacity="0.5" stroke-width="0.5"/>
<rect x="516.15" y="188.23" width="21.93" height="26.29" fill="#8cd738" stroke="#fff" stroke-opacity="0.5" stroke-width="0.5"/>
<rect x="538.07" y="188.23" width="21.93" height="26.29" fill="#85d036" stroke="#fff" stroke-opacity="0.5" stroke-width="0.5"/>
<rect x="318.80" y="214.52" width="21.93" height="26.29" fill="#a1ed3f" stroke="#fff" stroke-opacity="0.5" stroke-width="0.5"/>
<rect x="340.73" y="214.52" width="21.93" height="26.29" fill="#80ca35" stroke="#fff" stroke-opacity="0.5" stroke-width="0.5"/>
<rect x="362.65" y="214.52" width="21.93" height="26.29" fill="#70ba30" stroke="#fff" stroke-opacity="0.5" stroke-width="0.5"/>
<rect x="384.58" y="214.52" width="21.93" height="26.29" fill="#509826" stroke="#fff" stroke-opacity="0.5" stroke-width="0.5"/>
<rect x="406.51" y="214.52" width="21.93" height="26.29" fill="#67b02d" stroke="#fff" stroke-opacity="0.5" stroke-width="0.5"/>
<rect x="428.44" y="214.52" width="21.93" height="26.29" fill="#a3f040" stroke="#fff" stroke-opacity="0.5" stroke-width="0.5"/>
<rect x="450.36" y="214.52" width="21.93" height="26.29" fill="#7fc934" stroke="#fff" stroke-opacity="0.5" stroke-width="0.5"/>
<rect x="472.29" y="214.52" width="21.93" height="26.29" fill="#529a27" stroke="#fff" stroke-opacity="0.5" stroke-width="0.5"/>
<rect x="494.22" y="214.52" width="21.93" height="26.29" fill="#4c9425" stroke="#fff" stroke-opacity="0.5" stroke-width="0.5"/>
<rect x="516.15" y="214.52" width="21.93" height="26.29" fill="#78c232" stroke="#fff" stroke-opacity="0.5" stroke-width="0.5"/>
<rect x="538.07" y="214.52" width="21.93" height="26.29" fill="#5aa229" stroke="#fff" stroke-opacity="0.5" stroke-width="0.5"/>
<rect x="318.80" y="240.81" width="21.93" height="26.29" fill="#7f7f7f" stroke="#fff" stroke-opacity="0.5" stroke-width="0.5"/>
<rect x="340.73" y="240.81" width="21.93" height="26.29" fill="#affc43" stroke="#fff" stroke-opacity="0.5" stroke-width="0.5"/>
<rect x="362.65" y="240.81" width="21.93" height="26.29" fill="#31771d" stroke="#fff" stroke-opacity="0.5" stroke-width="0.5"/>
<rect x="384.58" y="240.81" width="21.93" height="26.29" fill="#2f751c" stroke="#fff" stroke-opacity="0.5" stroke-width="0.5"/>
<rect x="406.51" y="240.81" width="21.93" height="26.29" fill="#9eea3e" stroke="#fff" stroke-opacity="0.5" stroke-width="0.5"/>
<rect x="428.44" y="240.81" width="21.93" height="26.29" fill="#adf942" stroke="#fff" stroke-opacity="0.5" stroke-width="0.5"/>
<rect x="450.36" y="240.81" width="21.93" height="26.29" fill="#2e741c" stroke="#fff" stroke-opacity="0.5" stroke-width="0.5"/>
<rect x="472.29" y="240.81" width="21.93" height="26.29" fill="#a1ed3f" stroke="#fff" stroke-opacity="0.5" stroke-width="0.5"/>
<rect x="494.22" y="240.81" width="21.93" height="26.29" fill="#337a1e" stroke="#fff" stroke-opacity="0.5" stroke-width="0.5"/>
<rect x="516.15" y="240.81" width="21.93" height="26.29" fill="#aefb43" stroke="#fff" stroke-opacity="0.5" stroke-width="0.5"/>
<rect x="538.07" y="240.81" width="21.93" height="26.29" fill="#abf842" stroke="#fff" stroke-opacity="0.5" stroke-width="0.5"/>
<line x1="329.76" x2="329.76" y1="269.90000000000003" y2="271.6" stroke="#777" stroke-width="0.8"/>
<text transform="translate(329.76,281.64) scale(1.03,1)" text-anchor="middle" class="tk">1</text>
<line x1="351.69" x2="351.69" y1="269.90000000000003" y2="271.6" stroke="#777" stroke-width="0.8"/>
<text transform="translate(351.69,281.64) scale(1.03,1)" text-anchor="middle" class="tk">2</text>
<line x1="373.62" x2="373.62" y1="269.90000000000003" y2="271.6" stroke="#777" stroke-width="0.8"/>
<text transform="translate(373.62,281.64) scale(1.03,1)" text-anchor="middle" class="tk">3</text>
<line x1="395.55" x2="395.55" y1="269.90000000000003" y2="271.6" stroke="#777" stroke-width="0.8"/>
<text transform="translate(395.55,281.64) scale(1.03,1)" text-anchor="middle" class="tk">4</text>
<line x1="417.47" x2="417.47" y1="269.90000000000003" y2="271.6" stroke="#777" stroke-width="0.8"/>
<text transform="translate(417.47,281.64) scale(1.03,1)" text-anchor="middle" class="tk">5</text>
<line x1="439.40" x2="439.40" y1="269.90000000000003" y2="271.6" stroke="#777" stroke-width="0.8"/>
<text transform="translate(439.40,281.64) scale(1.03,1)" text-anchor="middle" class="tk">6</text>
<line x1="461.33" x2="461.33" y1="269.90000000000003" y2="271.6" stroke="#777" stroke-width="0.8"/>
<text transform="translate(461.33,281.64) scale(1.03,1)" text-anchor="middle" class="tk">7</text>
<line x1="483.25" x2="483.25" y1="269.90000000000003" y2="271.6" stroke="#777" stroke-width="0.8"/>
<text transform="translate(483.25,281.64) scale(1.03,1)" text-anchor="middle" class="tk">8</text>
<line x1="505.18" x2="505.18" y1="269.90000000000003" y2="271.6" stroke="#777" stroke-width="0.8"/>
<text transform="translate(505.18,281.64) scale(1.03,1)" text-anchor="middle" class="tk">9</text>
<line x1="527.11" x2="527.11" y1="269.90000000000003" y2="271.6" stroke="#777" stroke-width="0.8"/>
<text transform="translate(527.11,281.64) scale(1.03,1)" text-anchor="middle" class="tk">10</text>
<line x1="549.04" x2="549.04" y1="269.90000000000003" y2="271.6" stroke="#777" stroke-width="0.8"/>
<text transform="translate(549.04,281.64) scale(1.03,1)" text-anchor="middle" class="tk">11</text>
<line y1="17.35" y2="17.35" x1="314.4" x2="316.09999999999997" stroke="#777" stroke-width="0.8"/>
<text transform="translate(313.40,21.75) scale(1.03,1)" text-anchor="end" class="tk">10</text>
<line y1="43.64" y2="43.64" x1="314.4" x2="316.09999999999997" stroke="#777" stroke-width="0.8"/>
<text transform="translate(313.40,48.04) scale(1.03,1)" text-anchor="end" class="tk">9</text>
<line y1="69.93" y2="69.93" x1="314.4" x2="316.09999999999997" stroke="#777" stroke-width="0.8"/>
<text transform="translate(313.40,74.33) scale(1.03,1)" text-anchor="end" class="tk">8</text>
<line y1="96.22" y2="96.22" x1="314.4" x2="316.09999999999997" stroke="#777" stroke-width="0.8"/>
<text transform="translate(313.40,100.62) scale(1.03,1)" text-anchor="end" class="tk">7</text>
<line y1="122.51" y2="122.51" x1="314.4" x2="316.09999999999997" stroke="#777" stroke-width="0.8"/>
<text transform="translate(313.40,126.91) scale(1.03,1)" text-anchor="end" class="tk">6</text>
<line y1="148.80" y2="148.80" x1="314.4" x2="316.09999999999997" stroke="#777" stroke-width="0.8"/>
<text transform="translate(313.40,153.20) scale(1.03,1)" text-anchor="end" class="tk">5</text>
<line y1="175.09" y2="175.09" x1="314.4" x2="316.09999999999997" stroke="#777" stroke-width="0.8"/>
<text transform="translate(313.40,179.49) scale(1.03,1)" text-anchor="end" class="tk">4</text>
<line y1="201.38" y2="201.38" x1="314.4" x2="316.09999999999997" stroke="#777" stroke-width="0.8"/>
<text transform="translate(313.40,205.78) scale(1.03,1)" text-anchor="end" class="tk">3</text>
<line y1="227.67" y2="227.67" x1="314.4" x2="316.09999999999997" stroke="#777" stroke-width="0.8"/>
<text transform="translate(313.40,232.07) scale(1.03,1)" text-anchor="end" class="tk">2</text>
<line y1="253.96" y2="253.96" x1="314.4" x2="316.09999999999997" stroke="#777" stroke-width="0.8"/>
<text transform="translate(313.40,258.36) scale(1.03,1)" text-anchor="end" class="tk">1</text>
<text transform="translate(439.05,295.10) scale(1.02,1)" text-anchor="middle" class="ax">Male ID</text>
<text transform="translate(296.80,135.80) rotate(-90) scale(1.02,1)" text-anchor="middle" class="ax">Female ID</text>
<text transform="translate(586.70,48.10) scale(1.084,1)" text-anchor="start" class="lt">Pleasantness</text>
<rect x="587.1" y="57.8" width="11" height="54.6" fill="url(#gb)"/>
<line x1="587.1" x2="589.1" y1="63.7" y2="63.7" stroke="#fff" stroke-width="0.7"/>
<line x1="596.1" x2="598.1" y1="63.7" y2="63.7" stroke="#fff" stroke-width="0.7"/>
<text transform="translate(605.90,68.60) scale(1.03,1)" text-anchor="start" class="ll">80</text>
<line x1="587.1" x2="589.1" y1="77.3" y2="77.3" stroke="#fff" stroke-width="0.7"/>
<line x1="596.1" x2="598.1" y1="77.3" y2="77.3" stroke="#fff" stroke-width="0.7"/>
<text transform="translate(605.90,82.20) scale(1.03,1)" text-anchor="start" class="ll">60</text>
<line x1="587.1" x2="589.1" y1="89.6" y2="89.6" stroke="#fff" stroke-width="0.7"/>
<line x1="596.1" x2="598.1" y1="89.6" y2="89.6" stroke="#fff" stroke-width="0.7"/>
<text transform="translate(605.90,94.50) scale(1.03,1)" text-anchor="start" class="ll">40</text>
<line x1="587.1" x2="589.1" y1="102.0" y2="102.0" stroke="#fff" stroke-width="0.7"/>
<line x1="596.1" x2="598.1" y1="102.0" y2="102.0" stroke="#fff" stroke-width="0.7"/>
<text transform="translate(605.90,106.90) scale(1.03,1)" text-anchor="start" class="ll">20</text>
<text transform="translate(585.20,143.70) scale(1.035,1)" text-anchor="start" class="lt">Intensity</text>
<rect x="585.9" y="152.8" width="10.2" height="52.2" fill="url(#gg)"/>
<line x1="585.9" x2="587.9" y1="165.7" y2="165.7" stroke="#fff" stroke-width="0.7"/>
<line x1="594.1" x2="596.1" y1="165.7" y2="165.7" stroke="#fff" stroke-width="0.7"/>
<text transform="translate(603.90,170.60) scale(1.03,1)" text-anchor="start" class="ll">75</text>
<line x1="585.9" x2="587.9" y1="180.3" y2="180.3" stroke="#fff" stroke-width="0.7"/>
<line x1="594.1" x2="596.1" y1="180.3" y2="180.3" stroke="#fff" stroke-width="0.7"/>
<text transform="translate(603.90,185.20) scale(1.03,1)" text-anchor="start" class="ll">50</text>
<line x1="585.9" x2="587.9" y1="193.2" y2="193.2" stroke="#fff" stroke-width="0.7"/>
<line x1="594.1" x2="596.1" y1="193.2" y2="193.2" stroke="#fff" stroke-width="0.7"/>
<text transform="translate(603.90,198.10) scale(1.03,1)" text-anchor="start" class="ll">25</text>
</svg>
</body></html>
